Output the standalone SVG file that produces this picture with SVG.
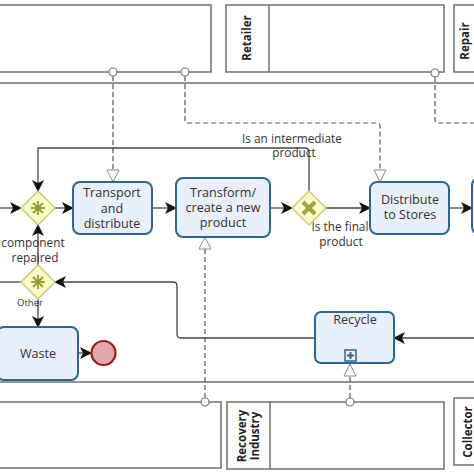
<svg xmlns="http://www.w3.org/2000/svg" width="474" height="474" viewBox="0 0 474 474">
<defs>
<style>
.pool{fill:#fff;stroke:#707070;stroke-width:1.5}
.lane{fill:none;stroke:#707070;stroke-width:1.5}
.task{fill:#e8eefa;stroke:#2f6690;stroke-width:2}
.gw{fill:#fbfbc8;stroke:#c9c77a;stroke-width:1.5}
.flow{fill:none;stroke:#444;stroke-width:1.3}
.assoc{fill:none;stroke:#555;stroke-width:1.2;stroke-dasharray:5 3}
.port{fill:#fff;stroke:#777;stroke-width:1.2}
.t{font-family:"Open Sans","Noto Sans",sans-serif;font-size:12.6px;fill:#333;text-anchor:middle}
.lbl{font-family:"Open Sans","Noto Sans",sans-serif;font-size:11.8px;fill:#333;text-anchor:middle}
.hdr{font-family:"Open Sans","Noto Sans",sans-serif;font-size:11.5px;font-weight:bold;fill:#222;text-anchor:middle}
</style>
<marker id="ar" markerUnits="userSpaceOnUse" markerWidth="12" markerHeight="12" viewBox="0 0 12 12" refX="11" refY="6" orient="auto">
<path d="M0,0 L12,6 L0,12 L3,6 z" fill="#111"/>
</marker>
<marker id="ho" markerUnits="userSpaceOnUse" markerWidth="14" markerHeight="14" viewBox="0 0 14 14" refX="13" refY="7" orient="auto">
<path d="M1,1 L13,7 L1,13 z" fill="#fff" stroke="#888" stroke-width="1"/>
</marker>
</defs>

<g id="pools">
<rect class="pool" x="-5" y="5" width="216" height="67"/>
<rect class="pool" x="226" y="5" width="218" height="67"/>
<line class="lane" x1="269" y1="5" x2="269" y2="72"/>
<text class="hdr" transform="translate(251,38) rotate(-90)">Retailer</text>
<rect class="pool" x="454" y="5" width="40" height="67"/>
<text class="hdr" transform="translate(469,41) rotate(-90)">Repair</text>
<line class="lane" x1="0" y1="83" x2="474" y2="83"/>
<line class="lane" x1="0" y1="382" x2="474" y2="382"/>
<rect class="pool" x="-5" y="402" width="226" height="66"/>
<rect class="pool" x="227" y="402" width="217" height="67"/>
<line class="lane" x1="270" y1="402" x2="270" y2="469"/>
<text class="hdr" transform="translate(252,436) rotate(-90)"><tspan x="0" dy="-6">Recovery</tspan><tspan x="0" dy="13">Industry</tspan></text>
<rect class="pool" x="454" y="398" width="40" height="67"/>
<text class="hdr" transform="translate(472,432) rotate(-90)">Collector</text>
</g>

<g id="connectors">
<line class="flow" x1="0" y1="208" x2="21" y2="208" marker-end="url(#ar)"/>
<line class="flow" x1="55" y1="208" x2="73" y2="208" marker-end="url(#ar)"/>
<line class="flow" x1="152" y1="208" x2="176" y2="208" marker-end="url(#ar)"/>
<line class="flow" x1="270" y1="208" x2="292" y2="208" marker-end="url(#ar)"/>
<line class="flow" x1="326" y1="208" x2="370" y2="208" marker-end="url(#ar)"/>
<line class="flow" x1="449" y1="208" x2="472" y2="208" marker-end="url(#ar)"/>
<path class="flow" d="M309,192 L309,152 Q309,148 305,148 L38,148 L38,191" marker-end="url(#ar)"/>
<line class="flow" x1="38" y1="265" x2="38" y2="225" marker-end="url(#ar)"/>
<line class="flow" x1="0" y1="282" x2="21" y2="282"/>
<path class="flow" d="M315,338 L181,338 Q177,338 177,334 L177,286 Q177,282 173,282 L55,282" marker-end="url(#ar)"/>
<line class="flow" x1="474" y1="338" x2="394" y2="338" marker-end="url(#ar)"/>
<line class="flow" x1="38" y1="299" x2="38" y2="327" marker-end="url(#ar)"/>
<line class="flow" x1="78" y1="353" x2="91" y2="353" marker-end="url(#ar)"/>

<line class="assoc" x1="113" y1="76" x2="113" y2="182" marker-end="url(#ho)"/>
<path class="assoc" d="M185,76 L185,120 Q185,123 188,123 L377,123 Q380,123 380,126 L380,182" marker-end="url(#ho)"/>
<path class="assoc" d="M435,77 L435,120 Q435,123 438,123 L474,123"/>
<line class="assoc" x1="205" y1="398" x2="205" y2="237" marker-end="url(#ho)"/>
<line class="assoc" x1="350" y1="398" x2="350" y2="364" marker-end="url(#ho)"/>
<circle class="port" cx="113" cy="72" r="4"/>
<circle class="port" cx="185" cy="72" r="4"/>
<circle class="port" cx="435" cy="73" r="4"/>
<circle class="port" cx="205" cy="402" r="4"/>
<circle class="port" cx="350" cy="402" r="4"/>

<text class="lbl"><tspan x="292" y="143">Is an intermediate</tspan><tspan x="294" y="157">product</tspan></text>
<text class="lbl"><tspan x="340" y="231">Is the final</tspan><tspan x="341" y="246">product</tspan></text>
<text class="lbl"><tspan x="33" y="247">component</tspan><tspan x="35" y="262">repaired</tspan></text>
<text class="lbl" x="30" y="306" style="font-size:9.5px">Other</text>
</g>

<g id="gw1">
<path class="gw" d="M38,191 L55,208 L38,225 L21,208 z"/>
<g stroke="#8a9e2a" stroke-width="1.8"><line x1="38" y1="201" x2="38" y2="215"/><line x1="31" y1="208" x2="45" y2="208"/><line x1="33" y1="203" x2="43" y2="213"/><line x1="43" y1="203" x2="33" y2="213"/></g>
</g>
<g id="gw3">
<path class="gw" d="M38,265 L55,282 L38,299 L21,282 z"/>
<g stroke="#8a9e2a" stroke-width="1.8"><line x1="38" y1="275" x2="38" y2="289"/><line x1="31" y1="282" x2="45" y2="282"/><line x1="33" y1="277" x2="43" y2="287"/><line x1="43" y1="277" x2="33" y2="287"/></g>
</g>
<g id="gw2">
<path class="gw" d="M309,191 L326,208 L309,225 L292,208 z"/>
<g stroke="#a3a345" stroke-width="4"><line x1="303" y1="202" x2="315" y2="214"/><line x1="315" y1="202" x2="303" y2="214"/></g>
</g>

<g id="transport">
<rect class="task" x="73" y="182" width="79" height="52" rx="7"/>
<text class="t"><tspan x="112" y="197">Transport</tspan><tspan x="112" y="213">and</tspan><tspan x="112" y="228">distribute</tspan></text>
</g>
<g id="transform">
<rect class="task" x="176" y="178" width="94" height="59" rx="7"/>
<text class="t"><tspan x="223" y="197">Transform/</tspan><tspan x="223" y="212">create a new</tspan><tspan x="223" y="227">product</tspan></text>
</g>
<g id="distribute">
<rect class="task" x="370" y="182" width="79" height="52" rx="7"/>
<text class="t"><tspan x="410" y="204">Distribute</tspan><tspan x="410" y="219">to Stores</tspan></text>
</g>
<g id="next">
<rect class="task" x="472" y="178" width="30" height="56" rx="7"/>
</g>
<g id="recycle">
<rect class="task" x="315" y="312" width="79" height="51" rx="6"/>
<text class="t" x="355" y="324">Recycle</text>
<rect x="345" y="350" width="11" height="11" fill="#e8eefa" stroke="#2f6690" stroke-width="1.5"/>
<path d="M350.5,352 V359 M347,355.5 H354" stroke="#2f6690" stroke-width="2"/>
</g>
<g id="waste">
<rect class="task" x="-3" y="327" width="81" height="53" rx="7"/>
<text class="t" x="38" y="358">Waste</text>
</g>
<g id="end">
<circle cx="103.5" cy="353" r="12" fill="#e3a6ab" stroke="#9b1c1c" stroke-width="2.2"/>
</g>
</svg>
